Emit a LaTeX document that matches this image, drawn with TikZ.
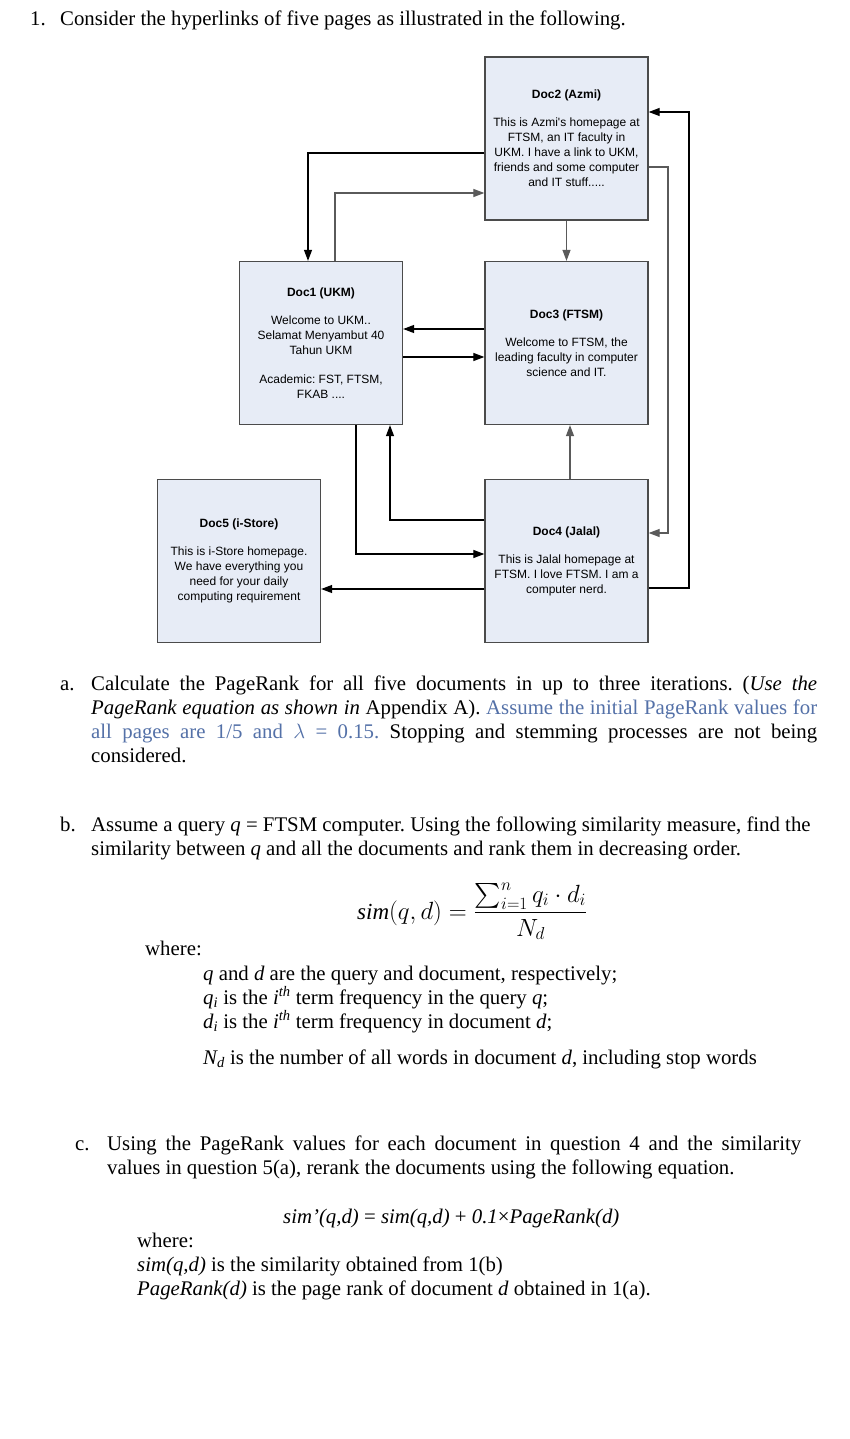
\documentclass[tikz,border=0pt]{standalone}
\usepackage{exscale}
\usepackage{fontspec}
\setmainfont{Liberation Serif}
\newfontfamily\arial{Liberation Sans}
\usetikzlibrary{arrows.meta}
\definecolor{boxfill}{RGB}{231,236,246}
\definecolor{boxdraw}{RGB}{75,75,75}
\definecolor{linkblue}{RGB}{84,113,168}
\definecolor{linkgray}{RGB}{90,90,90}
\frenchspacing
\begin{document}
\begin{tikzpicture}[x=1pt,y=-1pt,
  doc/.style={draw=boxdraw, fill=boxfill, line width=1.3pt, minimum width=163pt, minimum height=163pt,
    inner sep=0pt, align=center, font=\arial\fontsize{12}{15}\selectfont},
  arr/.style={-{Triangle[length=11pt,width=8pt]}, line width=1.2pt, draw=black},
  garr/.style={arr, draw=linkgray},
  txt/.style={anchor=base west, inner sep=0pt, font=\fontsize{20.8}{24}\selectfont\frenchspacing}]
\useasboundingbox[fill=white] (0,0) rectangle (849,1439);

% ---- boxes
\node[doc] (doc2) at (566.5,138.5) {\textbf{Doc2 (Azmi)}\\[13pt]This is Azmi's homepage at\\FTSM, an IT faculty in\\UKM. I have a link to UKM,\\friends and some computer\\and IT stuff.....};
\node[doc] (doc1) at (321,343) {\textbf{Doc1 (UKM)}\\[13pt]Welcome to UKM..\\Selamat Menyambut 40\\Tahun UKM\\[14pt]Academic: FST, FTSM,\\FKAB ....};
\node[doc] (doc3) at (566.5,343) {\textbf{Doc3 (FTSM)}\\[13pt]Welcome to FTSM, the\\leading faculty in computer\\science and IT.};
\node[doc] (doc5) at (239,561) {\textbf{Doc5 (i-Store)}\\[13pt]This is i-Store homepage.\\We have everything you\\need for your daily\\computing requirement};
\node[doc] (doc4) at (566.5,561) {\textbf{Doc4 (Jalal)}\\[13pt]This is Jalal homepage at\\FTSM. I love FTSM. I am a\\computer nerd.};

% ---- links
\draw[arr] (doc2.west |- 0,153) -| (doc1.north -| 308,0);
\draw[garr] (doc1.north -| 335,0) |- (doc2.west |- 0,193);
\draw[garr] (doc2.south) -- (doc3.north);
\draw[garr] (doc2.east |- 0,167) -| (668,533) -- (doc4.east |- 0,533);
\draw[arr] (doc4.east |- 0,588) -| (689,112) -- (doc2.east |- 0,112);
\draw[arr] (doc3.west |- 0,329) -- (doc1.east |- 0,329);
\draw[arr] (doc1.east |- 0,357) -- (doc3.west |- 0,357);
\draw[garr] (doc4.north -| 570,0) -- (doc3.south -| 570,0);
\draw[arr] (doc4.west |- 0,520) -| (doc1.south -| 390,0);
\draw[arr] (doc1.south -| 356,0) |- (doc4.west |- 0,554);
\draw[arr] (doc4.west |- 0,589) -- (doc5.east |- 0,589);

% ---- text
\node[txt] (t0) at (30,26) {1.};
\node[txt] (t1) at (60,26) {Consider the hyperlinks of five pages as illustrated in the following.};

\node[txt] (a0) at (60,690) {a.};
\node[txt] (a1) at (91,690) {\makebox[726pt][s]{Calculate the PageRank for all five documents in up to three iterations. (\textit{Use the}}};
\node[txt] (a2) at (91,714) {\makebox[726pt][s]{\textit{PageRank equation as shown in} Appendix A). \textcolor{linkblue}{Assume the initial PageRank values for}}};
\node[txt] (a3) at (91,738) {\makebox[726pt][s]{\textcolor{linkblue}{all pages are 1/5 and $\lambda$ = 0.15.} Stopping and stemming processes are not being}};
\node[txt] (a4) at (91,762) {considered.};

\node[txt] (b0) at (60,831) {b.};
\node[txt] (b1) at (91,831) {Assume a query \textit{q} = FTSM computer. Using the following similarity measure, find the};
\node[txt] (b2) at (91,855) {similarity between \textit{q} and all the documents and rank them in decreasing order.};

\node[txt, font=\fontsize{23}{27}\selectfont] (f1) at (357,919) {$\displaystyle \mathit{sim}(q,d) = \frac{\textstyle\sum_{i=1}^{n} q_i\cdot d_i}{N_d}$};

\node[txt] (w1) at (145,955) {where:};
\node[txt] (w2) at (203,980) {\textit{q} and \textit{d} are the query and document, respectively;};
\node[txt] (w3) at (203,1004) {\textit{q\textsubscript{i}} is the \textit{i\textsuperscript{th}} term frequency in the query \textit{q};};
\node[txt] (w4) at (203,1028) {\textit{d\textsubscript{i}} is the \textit{i\textsuperscript{th}} term frequency in document \textit{d};};
\node[txt] (w5) at (203,1064) {\textit{N\textsubscript{d}} is the number of all words in document \textit{d}, including stop words};

\node[txt] (c0) at (75,1150) {c.};
\node[txt] (c1) at (107,1150) {\makebox[694pt][s]{Using the PageRank values for each document in question 4 and the similarity}};
\node[txt] (c2) at (107,1174) {values in question 5(a), rerank the documents using the following equation.};
\node[txt] (f2) at (283,1223) {\textit{sim'(q,d)} = \textit{sim(q,d)} + \textit{0.1}×\textit{PageRank(d)}};
\node[txt] (c3) at (137,1247) {where:};
\node[txt] (c4) at (137,1271) {\textit{sim(q,d)} is the similarity obtained from 1(b)};
\node[txt] (c5) at (137,1295) {\textit{PageRank(d)} is the page rank of document \textit{d} obtained in 1(a).};
\end{tikzpicture}
\end{document}
